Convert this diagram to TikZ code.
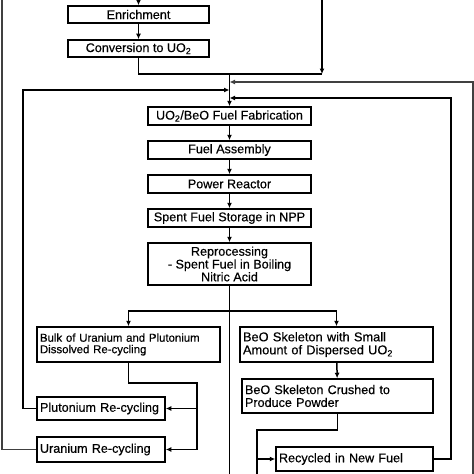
\documentclass[tikz,border=0pt]{standalone}
\usepackage{fontspec}
\setmainfont{Liberation Sans}
\newfontfamily\boxfont{Liberation Sans}[FakeBold=0.4]
\usetikzlibrary{arrows.meta}

\begin{document}
\begin{tikzpicture}[x=1pt, y=-1pt,
        box/.style={draw, line width=1.5pt, inner sep=3pt, font=\boxfont\fontsize{12.6}{12.8}\selectfont},
        midbox/.style={box, minimum width=163pt, minimum height=18pt, align=center},
        leftbox/.style={box, align=left, text width=#1},
        flow/.style={line width=1.5pt, -{Latex[length=5.5pt,width=5pt]}},
        link/.style={line width=1.5pt},
        rim/.style={line width=1.8pt, black!75}]
        \useasboundingbox (0,0) rectangle (474,474);
        \node[midbox, minimum width=141pt, minimum height=17pt] (enrich) at (138.5,14.5) {Enrichment};
        \node[midbox, minimum width=141pt, minimum height=17pt] (conv) at (138.5,48.5) {Conversion to UO\textsubscript{2}};
        \node[midbox] (fab) at (229.5,116) {UO\textsubscript{2}/BeO Fuel Fabrication};
        \node[midbox] (asm) at (229.5,150) {Fuel Assembly};
        \node[midbox] (reactor) at (229.5,184) {Power Reactor};
        \node[midbox] (storage) at (229.5,218) {Spent Fuel Storage in NPP};
        \node[midbox, minimum height=42pt] (repro) at (229.5,264) {Reprocessing\\- Spent Fuel in Boiling\\Nitric Acid};
        \node[leftbox=177pt, minimum height=35pt, font=\boxfont\fontsize{11.4}{11.5}\selectfont] (bulk) at (128.5,344.5) {Bulk of Uranium and Plutonium\\Dissolved Re-cycling};
        \node[leftbox=187pt, minimum height=35pt, font=\boxfont\fontsize{12.8}{13}\selectfont] (skel) at (336.5,344.5) {BeO Skeleton with Small\\Amount of Dispersed UO\textsubscript{2}};
        \node[leftbox=185pt, minimum height=34pt] (crush) at (337.5,396) {BeO Skeleton Crushed to\\Produce Powder};
        \node[leftbox=151pt, minimum height=24pt] (recyc) at (354.5,459) {Recycled in New Fuel};
        \node[leftbox=122pt, minimum height=23pt] (pu) at (101,408.5) {Plutonium Re-cycling};
        \node[leftbox=122pt, minimum height=25pt] (u) at (101,449.5) {Uranium Re-cycling};

        \coordinate (feed) at (138.5,0);
        \coordinate (side) at (322,0);
        \coordinate (merge) at (229.5,74);
        \coordinate (uleft) at (2,0);
        \coordinate (puturn) at (23,90);
        \coordinate (puin) at (229.5,90);
        \coordinate (redge) at (473,474);
        \coordinate (rin) at (229.5,82);
        \coordinate (rcturn) at (451,98);
        \coordinate (rcin) at (229.5,98);
        \coordinate (bottom) at (229.5,474);
        \coordinate (split) at (229.5,311);
        \coordinate (bturn) at (197,383);
        \coordinate (cturn) at (257,430);
        \coordinate (cbot) at (257,474);

        \draw[flow] (feed) -- (enrich);
        \draw[flow] (enrich) -- (conv);
        \draw[link] (conv.south) |- (side |- merge);
        \draw[flow] (side) -- (side |- merge);
        \draw[flow] (merge) -- (fab);
        \draw[flow] (fab) -- (asm);
        \draw[flow] (asm) -- (reactor);
        \draw[flow] (reactor) -- (storage);
        \draw[flow] (storage) -- (repro);
        \draw[link] (repro.south) -- (bottom);
        \draw[flow] (split) -| (bulk.north);
        \draw[flow] (split) -| (skel.north);
        \draw[flow] (skel) -- (crush);
        \draw[link] (bulk.south) |- (bturn) -- (bturn |- u.east);
        \draw[flow] (bturn |- pu.east) -- (pu.east);
        \draw[flow] (bturn |- u.east) -- (u.east);
        \draw[link] (crush.south) |- (cturn) -- (cbot);
        \draw[flow] (cbot |- recyc.west) -- (recyc.west);
        \draw[flow] (pu.west) -| (puturn) -- (puin);
        \draw[flow] (recyc.east) -| (rcturn) -- (rcin);
        \draw[rim, -{Latex[length=5.5pt,width=5pt]}] (redge) |- (rin);
        \draw[rim] (u.west) -| (uleft);
\end{tikzpicture}
\end{document}
